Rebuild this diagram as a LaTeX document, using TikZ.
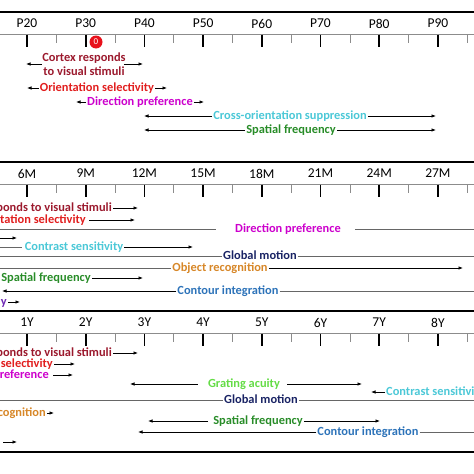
\documentclass[tikz,border=0pt]{standalone}
\usepackage{fontspec}
\setmainfont{Carlito}
\usepackage{tikz}
\usetikzlibrary{arrows.meta}

\definecolor{cortexred}{RGB}{155,25,45}
\definecolor{orired}{RGB}{225,30,30}
\definecolor{dirmag}{RGB}{204,0,204}
\definecolor{crosscyan}{RGB}{75,200,215}
\definecolor{sfgreen}{RGB}{40,140,40}
\definecolor{gmnavy}{RGB}{25,35,100}
\definecolor{objorange}{RGB}{215,135,40}
\definecolor{ciblue}{RGB}{45,115,185}
\definecolor{gagreen}{RGB}{100,220,70}
\definecolor{acpurple}{RGB}{110,40,180}
\definecolor{zerored}{RGB}{232,16,26}

\newcommand{\timeaxis}[3]{%
  \draw [black, line width=2.2pt] (0,#1) -- (474,#1);
  \draw [black!45, line width=0.6pt] (0,#1+22.5) -- (474,#1+22.5);
  \foreach \i in {0,...,8}
    \draw [black!45, line width=0.6pt] (-2.35+58.7*\i,#1+22.5) -- (-2.35+58.7*\i,#1+31);
  \foreach \lbl [count=\i from 0] in {#3} {
    \draw [black, line width=1.6pt] (27+58.7*\i,#1+22.5) -- (27+58.7*\i,#1+34.5);
    \node [tick] (#2\i) at (27+58.7*\i,#1+11.5) {\lbl};
  }
}

\begin{document}
\begin{tikzpicture}[x=1pt,y=-1pt]
\tikzstyle{every node}+=[inner sep=1pt]
\tikzstyle{tick}=[font=\fontsize{13.5}{15}\selectfont]
\tikzstyle{lab}=[font=\fontsize{12.4}{14}\selectfont\bfseries, text height=9pt, text depth=2.5pt]
\tikzstyle{labtwo}=[font=\fontsize{12.4}{14}\selectfont\bfseries, align=center]
\tikzstyle{arr}=[black, line width=0.7pt, -{Latex[length=4.5pt,width=3.5pt]}]
\tikzstyle{ln}=[black!60, line width=0.8pt]
\useasboundingbox (0,0) rectangle (474,474);
\clip (0,0) rectangle (474,474);

\timeaxis{12}{p}{P20,P30,P40,P50,P60,P70,P80,P90}
\timeaxis{162}{m}{6M,9M,12M,15M,18M,21M,24M,27M}
\timeaxis{311}{y}{1Y,2Y,3Y,4Y,5Y,6Y,7Y,8Y}
\draw [black, line width=2.2pt] (0,452) -- (474,452);

\node [circle, fill=zerored, text=white, minimum size=13pt, inner sep=0pt, font=\fontsize{9}{9}\selectfont] (zero) at (96,42) {0};

\node [labtwo, text=cortexred] (cr1) at (84,64) {Cortex responds\\to visual stimuli};
\coordinate (cr1l) at (26,64);
\coordinate (cr1r) at (143,64);
\draw [arr] ([xshift=1pt]cr1.west) -- (cr1l);
\draw [arr] ([xshift=-3pt]cr1.east) -- (cr1r);
\node [lab, text=orired] (os1) at (97,88) {Orientation selectivity};
\coordinate (os1l) at (27,88);
\coordinate (os1r) at (167,88);
\draw [arr] (os1.west) -- (os1l);
\draw [arr] (os1.east) -- (os1r);
\node [lab, text=dirmag] (dp1) at (140,102) {Direction preference};
\coordinate (dp1l) at (76,102);
\coordinate (dp1r) at (204,102);
\draw [arr] (dp1.west) -- (dp1l);
\draw [arr] (dp1.east) -- (dp1r);
\node [lab, text=crosscyan] (co1) at (290,116) {Cross-orientation suppression};
\coordinate (co1l) at (144,116);
\coordinate (co1r) at (436,116);
\draw [arr] (co1.west) -- (co1l);
\draw [arr] (co1.east) -- (co1r);
\node [lab, text=sfgreen] (sf1) at (291,130) {Spatial frequency};
\coordinate (sf1l) at (144,130);
\coordinate (sf1r) at (436,130);
\draw [arr] (sf1.west) -- (sf1l);
\draw [arr] (sf1.east) -- (sf1r);

\node [lab, text=cortexred, anchor=east] (cr2) at (113,208) {Cortex responds to visual stimuli};
\coordinate (cr2r) at (138,208);
\draw [arr] (cr2.east) -- (cr2r);
\node [lab, text=orired, anchor=east] (os2) at (87,220) {Orientation selectivity};
\coordinate (os2r) at (135,220);
\draw [arr] ([xshift=2pt]os2.east) -- (os2r);
\node [lab, text=dirmag] (dp2) at (288,229) {Direction preference};
\coordinate (dp2l) at (0,229);
\coordinate (dp2r) at (474,229);
\draw [ln, shorten >=18pt] (dp2l) -- (dp2.west);
\draw [ln, shorten <=13pt] (dp2.east) -- (dp2r);
\coordinate (sa2a) at (0,238);
\coordinate (sa2b) at (17,238);
\draw [arr] (sa2a) -- (sa2b);
\node [lab, text=crosscyan] (cs2) at (74,247) {Contrast sensitivity};
\coordinate (cs2l) at (0,247);
\coordinate (cs2r) at (193,247);
\draw [ln, shorten >=2pt] (cs2l) -- (cs2.west);
\draw [arr] (cs2.east) -- (cs2r);
\node [lab, text=gmnavy] (gm2) at (260,256) {Global motion};
\coordinate (gm2l) at (0,256);
\coordinate (gm2r) at (474,256);
\draw [ln] (gm2l) -- (gm2.west);
\draw [ln] (gm2.east) -- (gm2r);
\node [lab, text=objorange] (or2) at (220,268) {Object recognition};
\coordinate (or2l) at (0,268);
\coordinate (or2r) at (463,268);
\draw [ln] (or2l) -- (or2.west);
\draw [arr] (or2.east) -- (or2r);
\node [lab, text=sfgreen] (sf2) at (46,278) {Spatial frequency};
\coordinate (sf2r) at (143,278);
\draw [arr] (sf2.east) -- (sf2r);
\node [lab, text=ciblue] (ci2) at (228,291) {Contour integration};
\coordinate (ci2l) at (2,291);
\coordinate (ci2r) at (474,291);
\draw [arr] (ci2.west) -- (ci2l);
\draw [ln] (ci2.east) -- (ci2r);
\node [lab, text=acpurple, anchor=east] (ac2) at (8,302) {y};
\coordinate (ac2r) at (20,302);
\draw [arr] (ac2.east) -- (ac2r);

\node [lab, text=cortexred, anchor=east] (cr3) at (113,353) {Cortex responds to visual stimuli};
\coordinate (cr3r) at (138,353);
\draw [arr] (cr3.east) -- (cr3r);
\node [lab, text=orired, anchor=east] (os3) at (54,364) {Orientation selectivity};
\coordinate (os3r) at (75,364);
\draw [arr] (os3.east) -- (os3r);
\node [lab, text=dirmag, anchor=east] (dp3) at (50,375) {Direction preference};
\coordinate (dp3r) at (73,375);
\draw [arr, shorten <=3pt] (dp3.east) -- (dp3r);
\node [lab, text=gagreen] (ga3) at (244,384) {Grating acuity};
\coordinate (ga3l) at (130,384);
\coordinate (ga3r) at (362,384);
\draw [arr, shorten <=9pt] (ga3.west) -- (ga3l);
\draw [arr, shorten <=6pt] (ga3.east) -- (ga3r);
\node [lab, text=crosscyan, anchor=west] (cs3) at (385,392) {Contrast sensitivity};
\coordinate (cs3l) at (371,392);
\draw [arr] (cs3.west) -- (cs3l);
\node [lab, text=gmnavy] (gm3) at (261,400) {Global motion};
\coordinate (gm3l) at (0,400);
\coordinate (gm3r) at (474,400);
\draw [ln] (gm3l) -- (gm3.west);
\draw [ln] (gm3.east) -- (gm3r);
\node [lab, text=objorange, anchor=east] (or3) at (47,413) {Object recognition};
\coordinate (or3r) at (54,413);
\draw [arr] (or3.east) -- (or3r);
\node [lab, text=sfgreen] (sf3) at (258,421) {Spatial frequency};
\coordinate (sf3l) at (148,421);
\coordinate (sf3r) at (380,421);
\draw [arr, shorten <=4pt] (sf3.west) -- (sf3l);
\draw [arr] (sf3.east) -- (sf3r);
\node [lab, text=ciblue] (ci3) at (368,432) {Contour integration};
\coordinate (ci3l) at (138,432);
\coordinate (ci3r) at (474,432);
\draw [arr] (ci3.west) -- (ci3l);
\draw [ln] (ci3.east) -- (ci3r);
\coordinate (sa3a) at (3,442);
\coordinate (sa3b) at (17,442);
\draw [arr] (sa3a) -- (sa3b);
\end{tikzpicture}
\end{document}
